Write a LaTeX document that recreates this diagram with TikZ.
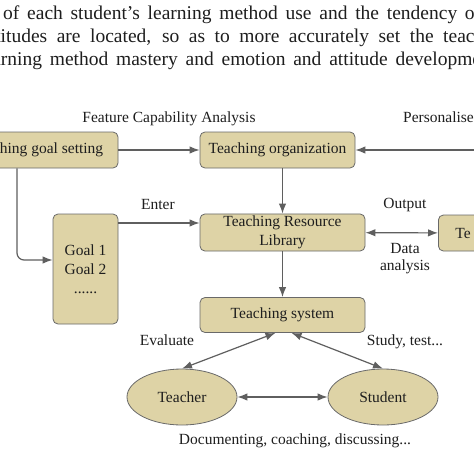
\documentclass[tikz,border=0pt]{standalone}
\usepackage{fontspec}
\setmainfont{Liberation Serif}
\usetikzlibrary{arrows.meta,shapes.geometric}
\definecolor{boxfill}{RGB}{222,211,166}
\definecolor{boxline}{RGB}{105,105,105}
\definecolor{linkgray}{RGB}{95,95,95}
\definecolor{inktext}{RGB}{30,30,30}
\tikzset{
  {box/.style}={rectangle, rounded corners=5pt, draw=boxline, thick,
                fill=boxfill, minimum height=36pt, inner sep=2pt,
                align=center, text=inktext,
                font=\fontsize{15.5}{19}\selectfont},
  {role/.style}={ellipse, draw=boxline, thick, fill=boxfill,
                 minimum width=110pt, minimum height=56pt, text=inktext,
                 font=\fontsize{15.5}{19}\selectfont},
  {link/.style}={draw=linkgray, line width=1.2pt},
  {tag/.style}={anchor=base, align=center, text=inktext, inner sep=0,
                font=\fontsize{15.5}{17}\selectfont},
  {pageline/.style}={anchor=base west, inner sep=0, text=inktext,
                     font=\fontsize{19.5}{23}\selectfont},
  >={Latex[length=10pt,width=7.5pt]},
}
\begin{document}
\begin{tikzpicture}[x=1pt,y=-1pt]
  \useasboundingbox (0,0) rectangle (474,474);
  \clip (0,0) rectangle (474,474);
  \fill[white] (0,0) rectangle (474,474);
  % text of the page above the figure
  \node[pageline] (line1) at (3,19) {\makebox[478pt][s]{of each student’s learning method use and the tendency of}};
  \node[pageline] (line2) at (-19,42) {\makebox[528pt][s]{attitudes are located, so as to more accurately set the teaching}};
  \node[pageline] (line3) at (-22,65) {\makebox[518pt][s]{learning method mastery and emotion and attitude development}};
  % boxes
  \node[box, minimum width=162pt] (goalset) at (37,150) {Teaching goal setting};
  \node[box, minimum width=155pt] (org) at (277.5,150) {Teaching organization};
  \node[box, minimum width=165pt, minimum height=37pt] (lib) at (282.5,232.5)
       {Teaching Resource\\Library};
  \node[box, minimum width=165pt, minimum height=35pt] (sys) at (282.5,315) {Teaching system};
  \node[box, minimum width=65pt, minimum height=110pt] (goals) at (85.5,269)
       {Goal 1\\Goal 2\\......};
  \node[box, anchor=west, minimum width=80pt, inner xsep=17pt, text width=46pt,
        align=left] (te) at (438,233) {Te};
  \node[role] (teacher) at (182,397) {Teacher};
  \node[role] (student) at (383,397) {Student};
  \coordinate (pers) at (490,150);
  % connectors
  \draw[link,->] (goalset) -- (org);
  \draw[link,->] (pers) -- (org);
  \draw[link,->] (org.south -| lib) -- (lib);
  \draw[link,->] (lib) -- (sys);
  \draw[link,->,rounded corners=7pt] ([xshift=-20pt]goalset.south)
       |- ([yshift=9pt]goals.west);
  \draw[link,->] ([yshift=46pt]goals.east) -- ([yshift=9.5pt]lib.west);
  \draw[link,<->] (lib) -- (te);
  \draw[link,<->] ([xshift=-7pt]sys.south) -- (teacher.north);
  \draw[link,<->] ([xshift=9pt]sys.south) -- (student.north);
  \draw[link,<->] (teacher) -- (student);
  % labels
  \node[tag] (lbfeat) at (169,122) {Feature Capability Analysis};
  \node[tag, anchor=base west] (lbpers) at (403,122) {Personalise};
  \node[tag] (lbenter) at (158,209) {Enter};
  \node[tag] (lbout) at (405,208) {Output};
  \node[tag] (lbdata) at (405,270) {Data\\analysis};
  \node[tag] (lbeval) at (167,345) {Evaluate};
  \node[tag] (lbstudy) at (405,345) {Study, test...};
  \node[tag] (lbdoc) at (295,444) {Documenting, coaching, discussing...};
\end{tikzpicture}
\end{document}
